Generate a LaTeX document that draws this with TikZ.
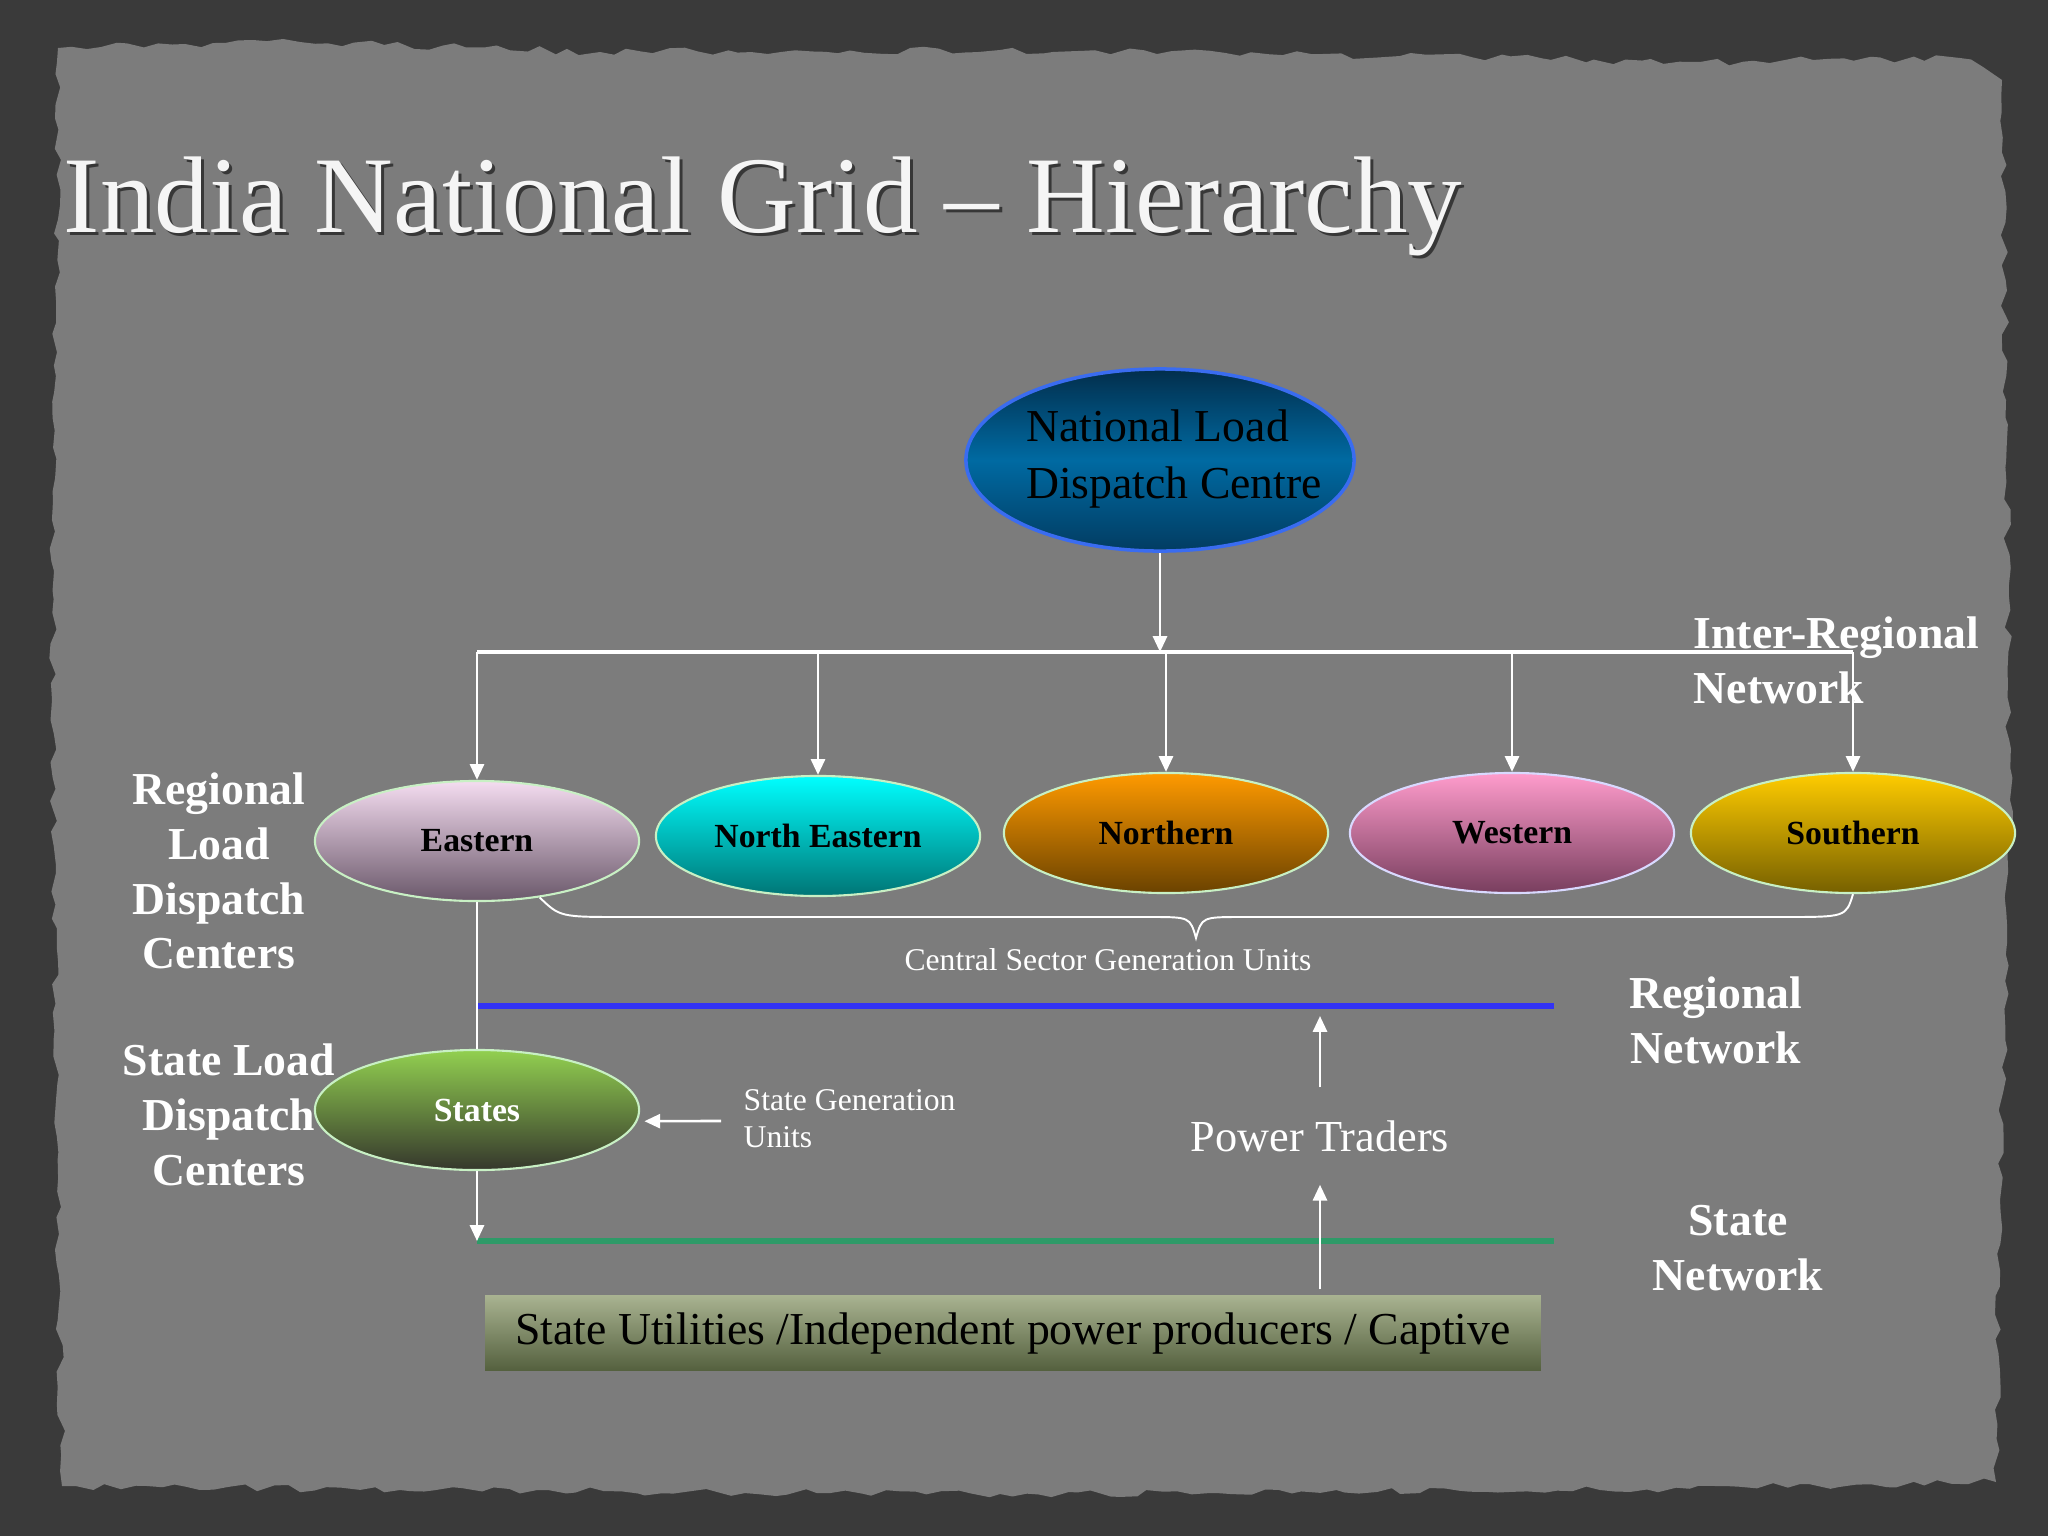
\documentclass[tikz,border=0pt]{standalone}
\usepackage{fontspec}
\setmainfont{Liberation Serif}
\usetikzlibrary{arrows.meta,shapes.geometric,decorations.pathmorphing}
\definecolor{outerbg}{HTML}{3A3A3A}
\definecolor{paper}{HTML}{7C7C7C}
\definecolor{edgegreen}{HTML}{C8F0C4}
\definecolor{nldcedge}{HTML}{3A6CF0}
\definecolor{nldcT}{HTML}{022E4C}
\definecolor{nldcM}{HTML}{006AA2}
\definecolor{nldcB}{HTML}{023C62}
\definecolor{eastT}{HTML}{F4DCF0}
\definecolor{eastB}{HTML}{6A586A}
\definecolor{neT}{HTML}{00FFFF}
\definecolor{neB}{HTML}{007575}
\definecolor{northT}{HTML}{FF9A00}
\definecolor{northB}{HTML}{6A4200}
\definecolor{westT}{HTML}{FF9CCC}
\definecolor{westB}{HTML}{783E5E}
\definecolor{southT}{HTML}{FFCC00}
\definecolor{southB}{HTML}{766000}
\definecolor{stateT}{HTML}{92D050}
\definecolor{stateB}{HTML}{35372C}
\definecolor{boxT}{HTML}{A8B290}
\definecolor{boxB}{HTML}{55613F}
\definecolor{regblue}{HTML}{3333F5}
\definecolor{stgreen}{HTML}{2E9A68}
\begin{document}
\begin{tikzpicture}[x=0.01cm,y=-0.01cm,
  region/.style={ellipse, draw=edgegreen, line width=0.6pt, minimum width=3.24cm,
    minimum height=1.2cm, inner sep=0pt, text=black,
    font=\bfseries\fontsize{9.6}{11}\selectfont},
  conn/.style={draw=white, line width=0.75pt, -{Triangle[length=4.5pt,width=4pt]}},
  wire/.style={draw=white, line width=0.75pt},
  bracewire/.style={draw=white, line width=0.55pt},
  bus/.style={draw=white, line width=1.4pt},
  netline/.style={line width=1.6pt},
  side/.style={text=white, font=\bfseries\fontsize{13}{15.6}\selectfont, align=center, inner sep=0pt},
  plain/.style={text=white, font=\fontsize{9}{10.5}\selectfont, inner sep=0pt}
]
\useasboundingbox (0,0) rectangle (2048,1536);
% background
\fill[outerbg] (0,0) rectangle (2048,1536);
\pgfmathsetseed{7}
\fill[paper, decorate, decoration={random steps, segment length=4pt, amplitude=1.1pt}]
  (58,48) -- (300,42) -- (600,52) -- (1000,50) -- (1400,56) -- (1700,62) -- (1960,58)
  -- (2002,80) -- (2006,400) -- (2010,800) -- (2000,1200) -- (1996,1482)
  -- (1600,1490) -- (1000,1494) -- (400,1490) -- (62,1486) -- (56,1100) -- (52,700) -- (56,300) -- cycle;
% title
\node[anchor=base west, inner sep=0pt, text=black, opacity=0.55,
  font=\fontsize{31}{36}\selectfont] (titleshadow) at (66,235) {India National Grid -- Hierarchy};
\node[anchor=base west, inner sep=0pt, text=white!92!gray,
  font=\fontsize{31}{36}\selectfont] (title) at (63,232) {India National Grid -- Hierarchy};
% national
\node[ellipse, draw=nldcedge, line width=1pt, minimum width=3.88cm, minimum height=1.82cm,
  inner sep=0pt, top color=nldcT, bottom color=nldcB, middle color=nldcM] (nldc) at (1160,460) {};
\node[align=left, text=black, inner sep=0pt, font=\fontsize{13}{16}\selectfont]
  (nldclabel) at (1174,459) {National Load\\Dispatch Centre};
% regions
\node[region, top color=eastT, bottom color=eastB] (eastern) at (477,841) {Eastern};
\node[region, top color=neT, bottom color=neB] (neast) at (818,836) {North Eastern};
\node[region, top color=northT, bottom color=northB] (northern) at (1166,833) {Northern};
\node[region, top color=westT, bottom color=westB, draw=blue!15!white] (western) at (1512,833) {Western};
\node[region, top color=southT, bottom color=southB] (southern) at (1853,833) {Southern};
% states
\node[region, top color=stateT, bottom color=stateB, text=white] (states) at (477,1110) {States};
% box
\node[minimum width=10.55cm, minimum height=0.74cm, inner sep=0pt,
  top color=boxT, bottom color=boxB, text=black, font=\fontsize{13}{15}\selectfont]
  (box) at (1013,1333) {State Utilities /Independent power producers / Captive\hspace{0.18cm}};
% labels
\node[side] (rldc) at (219,871) {Regional\\Load\\Dispatch\\Centers};
\node[side] (sldc) at (229,1115) {State Load\\Dispatch\\Centers};
\node[side, align=left, anchor=west] (irn) at (1693,660) {Inter-Regional\\Network};
\node[side] (rnet) at (1716,1020) {Regional\\Network};
\node[side] (snet) at (1738,1248) {State\\Network};
\node[plain] (csgu) at (1108,960) {Central Sector Generation Units};
\node[plain, align=left, anchor=west, font=\fontsize{9}{10.6}\selectfont] (sgu) at (743,1119) {State Generation\\Units};
\node[text=white, font=\fontsize{12.6}{15}\selectfont, minimum height=0.96cm, inner sep=0pt] (traders) at (1320,1136) {Power Traders};
% network lines
\coordinate (barL) at (478,652);
\coordinate (regL) at (477,1006);
\coordinate (regR) at (1554,1006);
\coordinate (stL) at (477,1241);
\coordinate (stR) at (1554,1241);
\coordinate (sgtail) at (721,1121);
\draw[netline, draw=regblue] (regL) -- (regR);
\draw[netline, draw=stgreen] (stL) -- (stR);
% connectors
\draw[conn] (nldc.south) -- (nldc.south |- barL);
\draw[bus] (eastern.north |- barL) -- (southern.north |- barL);
\draw[conn] (eastern.north |- barL) -- (eastern.north);
\draw[conn] (neast.north |- barL) -- (neast.north);
\draw[conn] (northern.north |- barL) -- (northern.north);
\draw[conn] (western.north |- barL) -- (western.north);
\draw[conn] (southern.north |- barL) -- (southern.north);
\draw[wire] (eastern.south) -- (states.north);
\draw[conn] (states.south) -- (states.south |- stL);
\draw[conn, shorten >=2pt] (sgtail) -- (states.-4);
\draw[conn] (traders.north) -- ([yshift=-0.1cm]traders.north |- regL);
\draw[conn] ([yshift=0.06cm]traders.south |- box.north) -- (traders.south);
% brace
\draw[bracewire] (eastern.-42) .. controls (560,917) .. (624,917) -- (1150,917)
  .. controls (1190,917) .. (1196,938) .. controls (1202,917) .. (1242,917)
  -- (1784,917) .. controls (1846,917) .. (southern.south);
\end{tikzpicture}
\end{document}
